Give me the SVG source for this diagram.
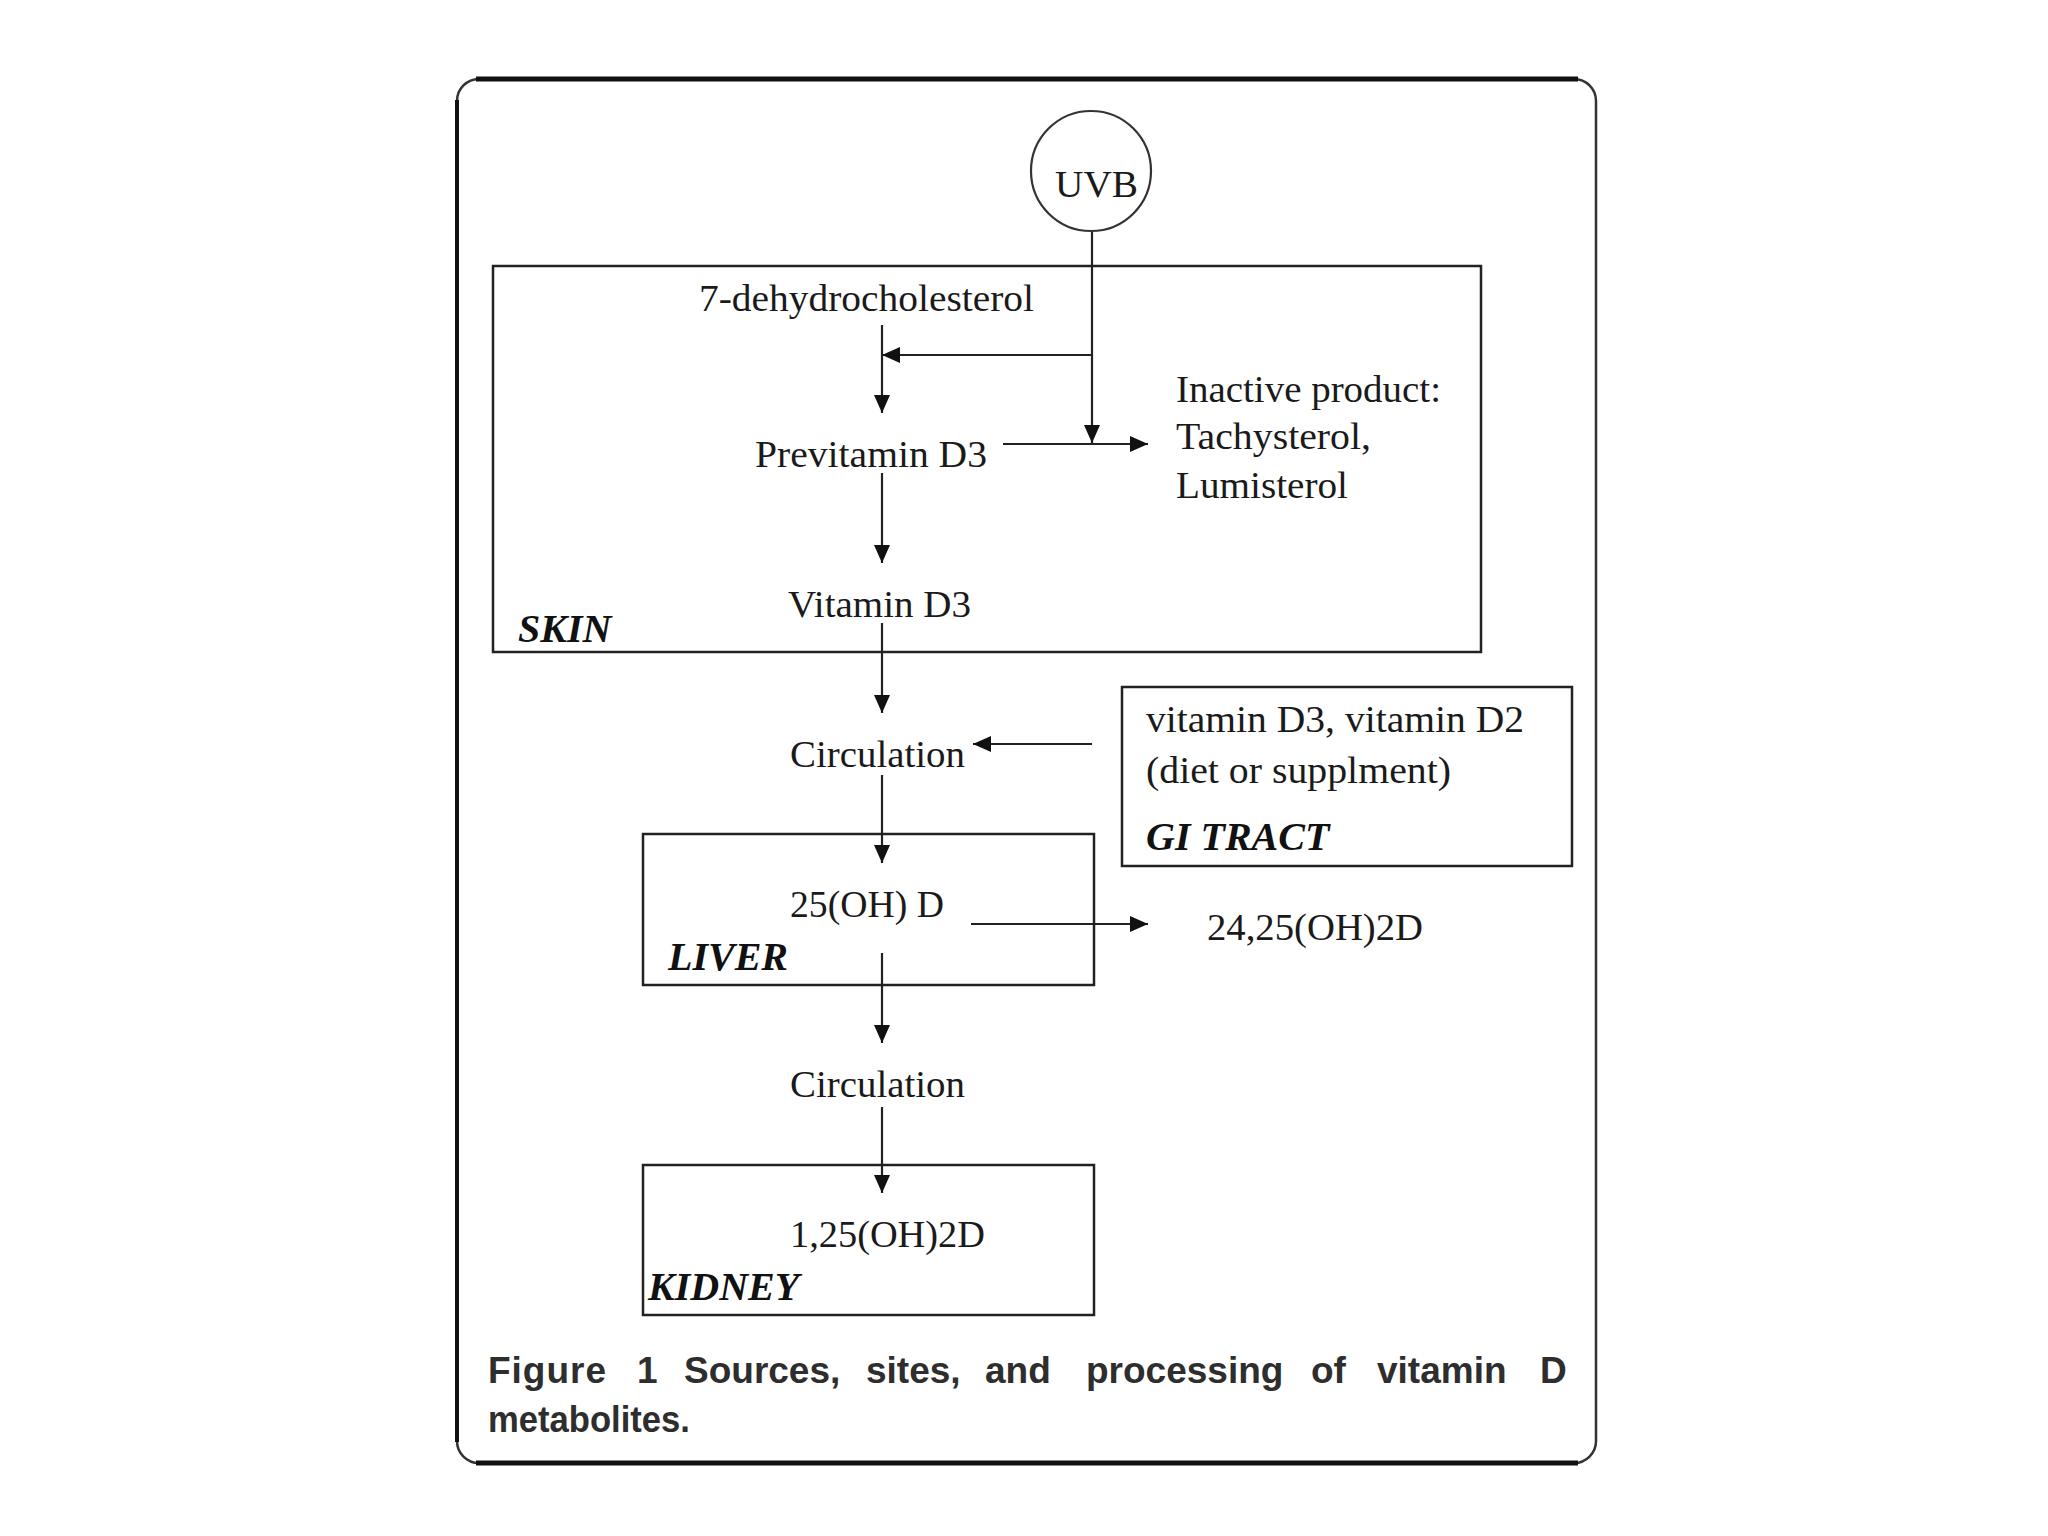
<svg xmlns="http://www.w3.org/2000/svg" width="2048" height="1536" viewBox="0 0 2048 1536">
<defs>
<style>
.lbl{font-family:"Liberation Serif","Times New Roman",serif;font-size:38px;fill:#1a1a1a}
.reg{font-family:"Liberation Serif","Times New Roman",serif;font-size:40px;font-weight:bold;font-style:italic;fill:#111}
.box{fill:none;stroke:#222;stroke-width:2.5}
.con{fill:none;stroke:#222;stroke-width:2.2;marker-end:url(#ah)}
.cap{font-family:"Liberation Sans",Arial,sans-serif;font-size:37px;font-weight:bold;fill:#2e2e2e}
</style>
<marker id="ah" viewBox="0 0 18 16" refX="18" refY="8" markerWidth="18" markerHeight="16" markerUnits="userSpaceOnUse" orient="auto">
<path d="M0,0 L18,8 L0,16 z" fill="#111"/>
</marker>
</defs>
<rect width="2048" height="1536" fill="#fff"/>
<g id="frame">
<rect x="457" y="79" width="1139" height="1384" rx="22" ry="22" fill="none" stroke="#333" stroke-width="2.5"/>
<line x1="476" y1="79" x2="1578" y2="79" stroke="#111" stroke-width="5"/>
<line x1="476" y1="1463" x2="1578" y2="1463" stroke="#111" stroke-width="5"/>
<line x1="457" y1="100" x2="457" y2="1442" stroke="#111" stroke-width="4"/>
</g>
<g id="connectors">
<path class="con" d="M1092,232 V443"/>
<path class="con" d="M1092,355 H882"/>
<path class="con" d="M882,325 V413"/>
<path class="con" d="M1003,444 H1148"/>
<path class="con" d="M882,473 V563"/>
<path class="con" d="M882,623 V713"/>
<path class="con" d="M1092,744 H973"/>
<path class="con" d="M882,775 V863"/>
<path class="con" d="M971,924 H1148"/>
<path class="con" d="M882,953 V1043"/>
<path class="con" d="M882,1107 V1193"/>
</g>
<g id="uvb">
<ellipse cx="1091" cy="171" rx="60" ry="60" fill="none" stroke="#333" stroke-width="2.2"/>
<text class="lbl" x="1055" y="197" textLength="83" lengthAdjust="spacingAndGlyphs">UVB</text>
</g>
<g id="skin">
<rect class="box" x="493" y="266" width="988" height="386"/>
<text class="reg" x="518" y="642">SKIN</text>
</g>
<g id="dehydrocholesterol">
<text class="lbl" x="699" y="311" textLength="335" lengthAdjust="spacingAndGlyphs">7-dehydrocholesterol</text>
</g>
<g id="previtamin">
<text class="lbl" x="755" y="467" textLength="232" lengthAdjust="spacingAndGlyphs">Previtamin D3</text>
</g>
<g id="inactive">
<text class="lbl" x="1176" y="402" textLength="265" lengthAdjust="spacingAndGlyphs">Inactive product:</text>
<text class="lbl" x="1176" y="449" textLength="195" lengthAdjust="spacingAndGlyphs">Tachysterol,</text>
<text class="lbl" x="1176" y="498" textLength="172" lengthAdjust="spacingAndGlyphs">Lumisterol</text>
</g>
<g id="vitamin-d3">
<text class="lbl" x="788" y="617" textLength="183" lengthAdjust="spacingAndGlyphs">Vitamin D3</text>
</g>
<g id="circulation1">
<text class="lbl" x="790" y="767" textLength="175" lengthAdjust="spacingAndGlyphs">Circulation</text>
</g>
<g id="gi-tract">
<rect class="box" x="1122" y="687" width="450" height="179"/>
<text class="lbl" x="1146" y="732" textLength="378" lengthAdjust="spacingAndGlyphs">vitamin D3, vitamin D2</text>
<text class="lbl" x="1146" y="783" textLength="305" lengthAdjust="spacingAndGlyphs">(diet or supplment)</text>
<text class="reg" x="1146" y="850">GI TRACT</text>
</g>
<g id="liver">
<rect class="box" x="643" y="834" width="451" height="151"/>
<text class="lbl" x="790" y="917" textLength="154" lengthAdjust="spacingAndGlyphs">25(OH) D</text>
<text class="reg" x="668" y="970">LIVER</text>
</g>
<g id="d24">
<text class="lbl" x="1207" y="940" textLength="216" lengthAdjust="spacingAndGlyphs">24,25(OH)2D</text>
</g>
<g id="circulation2">
<text class="lbl" x="790" y="1097" textLength="175" lengthAdjust="spacingAndGlyphs">Circulation</text>
</g>
<g id="kidney">
<rect class="box" x="643" y="1165" width="451" height="150"/>
<text class="lbl" x="790" y="1247" textLength="195" lengthAdjust="spacingAndGlyphs">1,25(OH)2D</text>
<text class="reg" x="648" y="1300">KIDNEY</text>
</g>
<g id="caption">
<text class="cap" y="1383"><tspan x="488" textLength="118" lengthAdjust="spacing">Figure</tspan> <tspan x="637">1</tspan> <tspan x="684">Sources,</tspan> <tspan x="866">sites,</tspan> <tspan x="985">and</tspan> <tspan x="1086">processing</tspan> <tspan x="1311">of</tspan> <tspan x="1377">vitamin</tspan> <tspan x="1540">D</tspan></text>
<text class="cap" x="488" y="1432" textLength="202" lengthAdjust="spacingAndGlyphs">metabolites.</text>
</g>
</svg>
